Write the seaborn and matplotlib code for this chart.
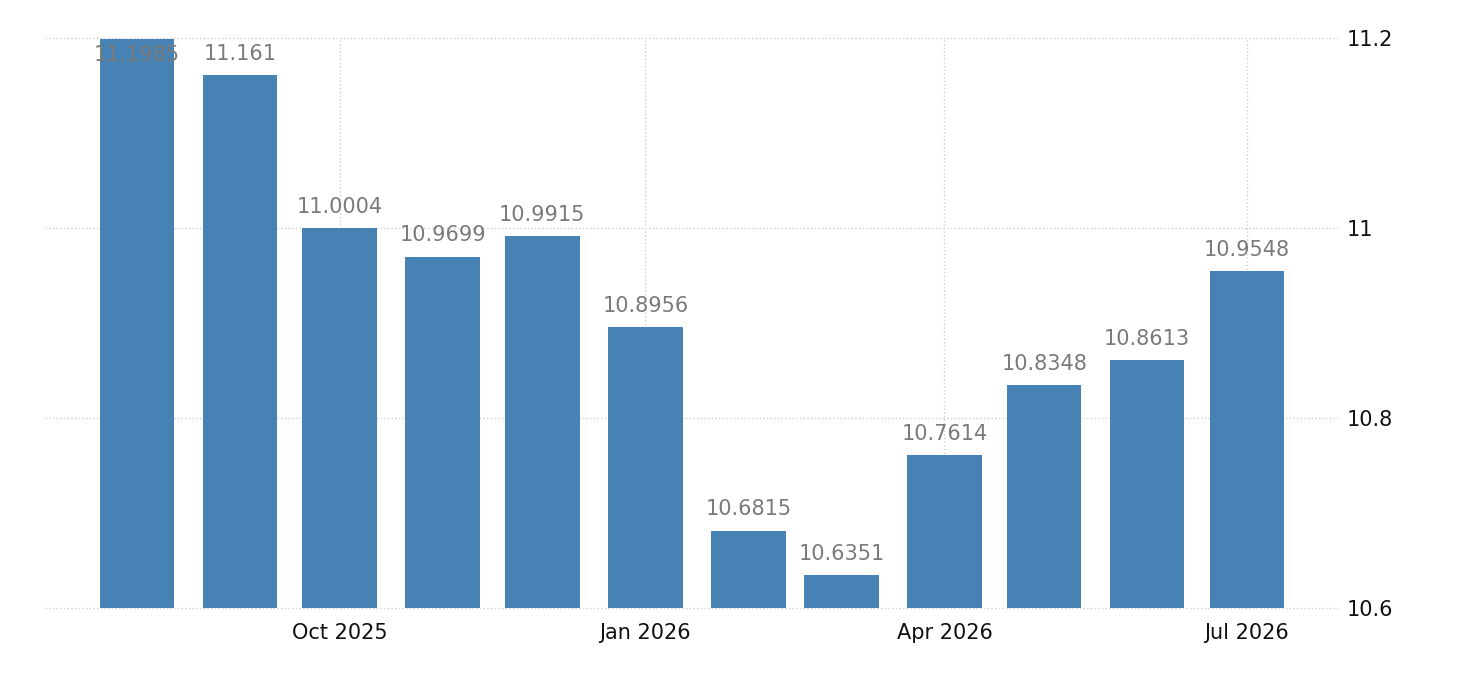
import numpy as np
import pandas as pd
import matplotlib
matplotlib.use("Agg")
import matplotlib.pyplot as plt
import matplotlib.dates as mdates
import seaborn as sns

# monthly values, bars sit on the first day of each month
months = ["2025-08-01", "2025-09-01", "2025-10-01", "2025-11-01", "2025-12-01", "2026-01-01",
          "2026-02-01", "2026-03-01", "2026-04-01", "2026-05-01", "2026-06-01", "2026-07-01"]
values = [11.1985, 11.161, 11.0004, 10.9699, 10.9915, 10.8956,
          10.6815, 10.6351, 10.7614, 10.8348, 10.8613, 10.9548]
labels = ["11.1985", "11.161", "11.0004", "10.9699", "10.9915", "10.8956",
          "10.6815", "10.6351", "10.7614", "10.8348", "10.8613", "10.9548"]

xtick_dates = ["2025-10-01", "2026-01-01", "2026-04-01", "2026-07-01"]
xtick_labels = ["Oct 2025", "Jan 2026", "Apr 2026", "Jul 2026"]
yticks = [10.6, 10.8, 11.0, 11.2]
ytick_labels = ["10.6", "10.8", "11", "11.2"]

BAR = "#4682b4"
LABEL_GRAY = "#7a7a7a"
GRID = "#cfcfcf"

sns.set_style("white")
plt.rcParams["font.family"] = ["DejaVu Sans"]

df = pd.DataFrame({"date": pd.to_datetime(months), "value": values})
df["x"] = mdates.date2num(df["date"])

fig = plt.figure(figsize=(14.6, 6.8), dpi=100)
ax = fig.add_axes([45 / 1460, 72 / 680, 1293 / 1460, 570 / 680])

sns.barplot(data=df, x="x", y="value", native_scale=True, color=BAR,
            saturation=1, errorbar=None, linewidth=0, ax=ax)

ymin, ymax = 10.6, 11.2
ax.set_ylim(ymin, ymax)
ax.set_xlim(mdates.date2num(np.datetime64("2025-07-04T08")),
            mdates.date2num(np.datetime64("2026-07-28T10")))

ax.set_xticks(mdates.date2num(pd.to_datetime(xtick_dates)))
ax.set_xticklabels(xtick_labels)
ax.set_yticks(yticks)
ax.set_yticklabels(ytick_labels)
ax.yaxis.tick_right()

ax.tick_params(axis="x", length=6, width=1, color=GRID, pad=5, labelsize=15, labelcolor="#111111")
ax.tick_params(axis="y", length=0, pad=6, labelsize=15, labelcolor="#111111")

ax.grid(True, axis="both", linestyle=":", linewidth=1, color=GRID)
ax.set_axisbelow(True)
# keep the grid lines on the plot edges fully visible
for gl in ax.get_ygridlines() + ax.get_xgridlines():
    gl.set_clip_on(False)
for s in ax.spines.values():
    s.set_visible(False)
ax.set_xlabel("")
ax.set_ylabel("")

# value labels above bars, kept inside the plot when the bar reaches the top
for x, v, lab in zip(df["x"], values, labels):
    if v > ymax - 0.032:
        ax.annotate(lab, xy=(x, ymax), xytext=(0, -5), textcoords="offset points",
                    ha="center", va="top", fontsize=15, color=LABEL_GRAY)
    else:
        ax.annotate(lab, xy=(x, v), xytext=(0, 8), textcoords="offset points",
                    ha="center", va="bottom", fontsize=15, color=LABEL_GRAY)

fig.savefig("out.png", dpi=100)
